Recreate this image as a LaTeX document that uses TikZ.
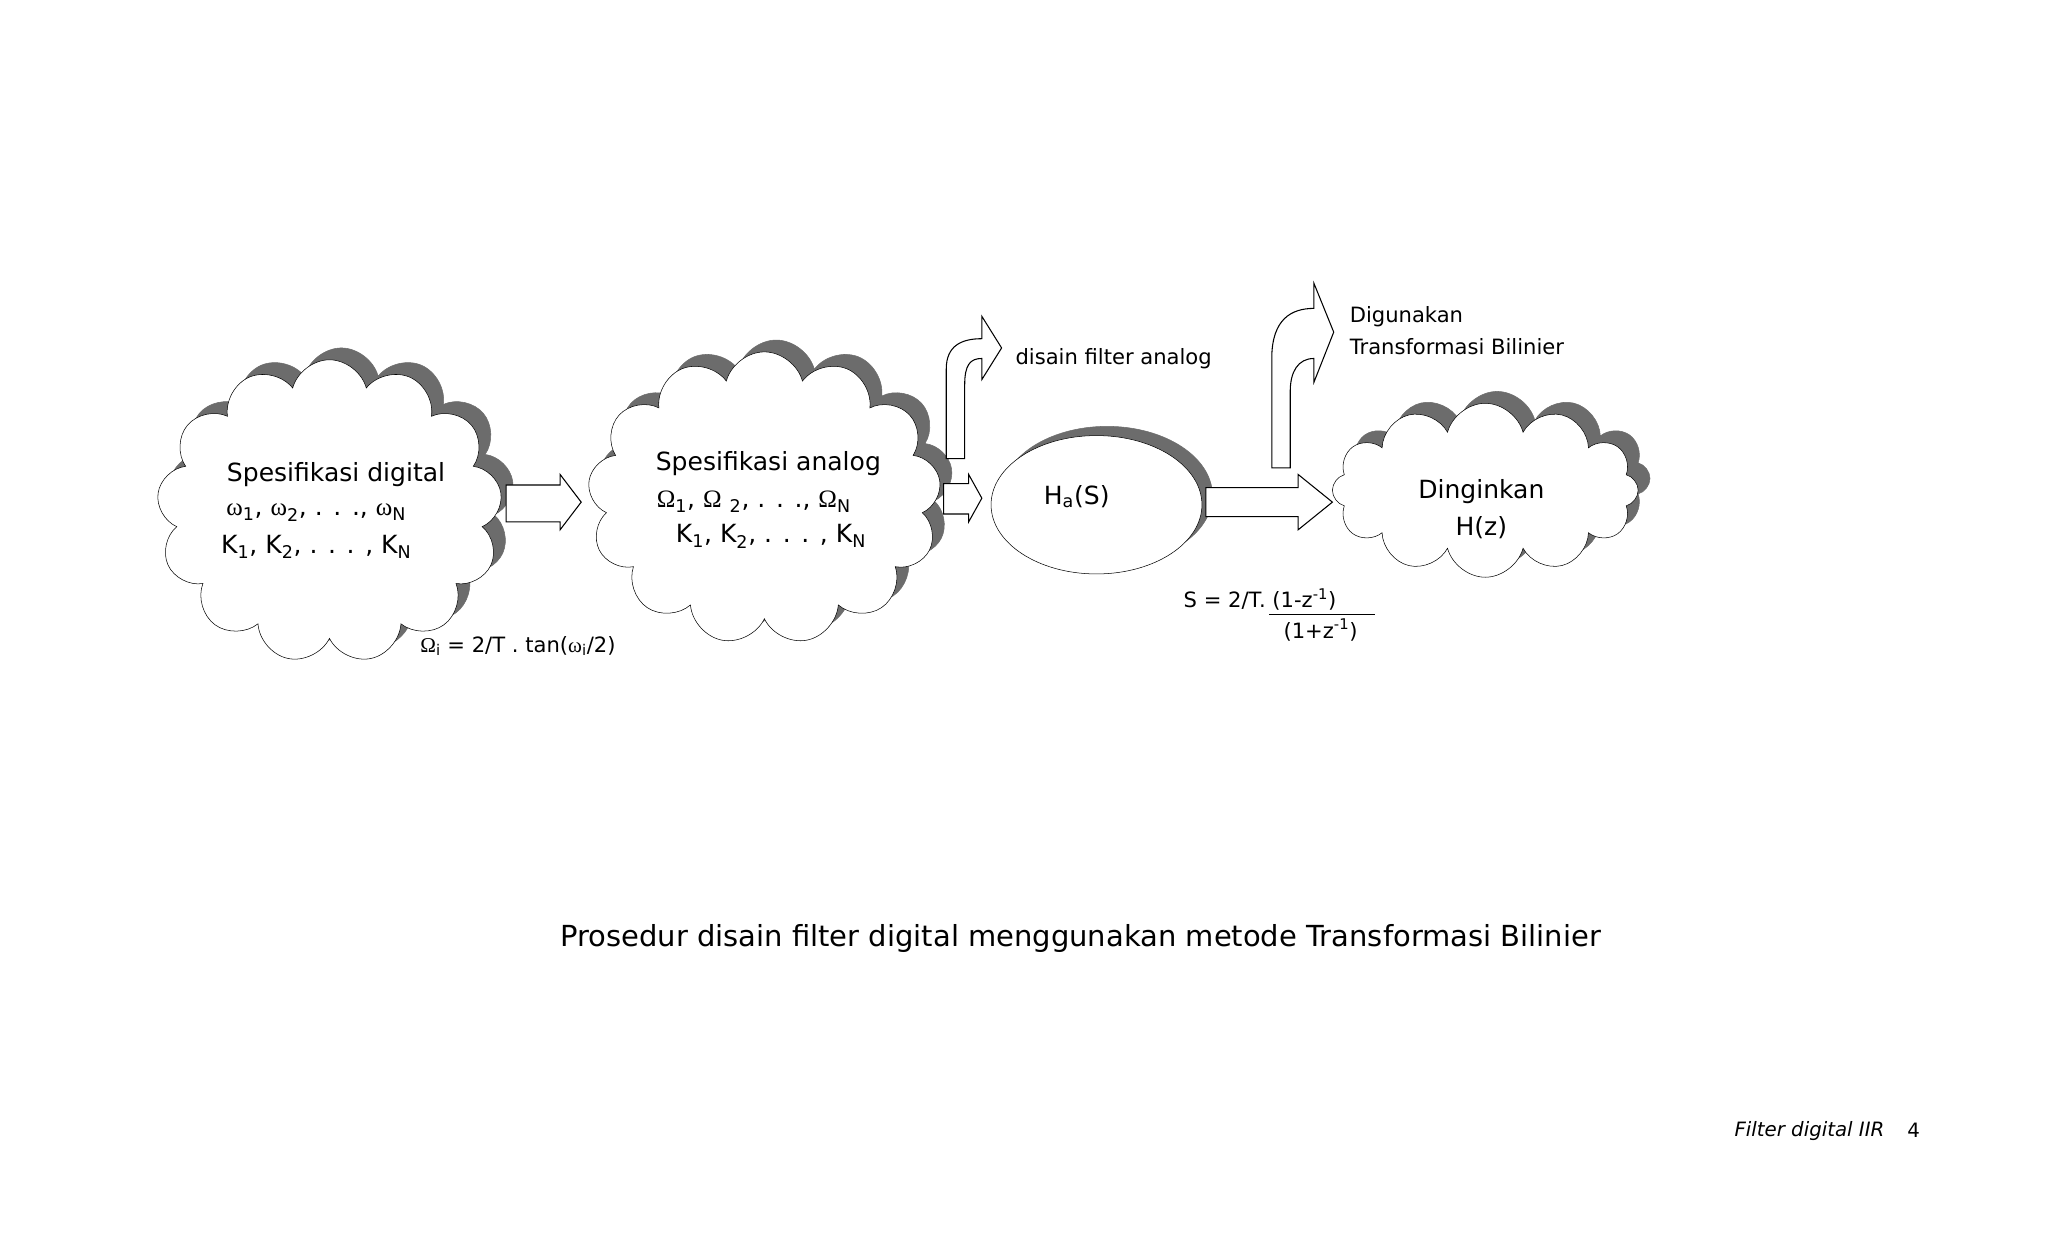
\documentclass[tikz,border=0pt]{standalone}
\usepackage{fontspec}
\setmainfont{DejaVu Sans}
\newfontfamily\gr{Liberation Serif}
\usetikzlibrary{shapes.symbols,shapes.geometric,shadows}
\begin{document}
\begin{tikzpicture}[x=1pt,y=-1pt,
  cl/.style={cloud,cloud puffs=13,draw,fill=white,inner sep=0pt,
    copy shadow={shadow xshift=9pt,shadow yshift=9pt,fill=gray!85!black,draw=gray!85!black}},
  blk/.style={draw,fill=white,line width=0.8pt},
  lab/.style={font=\fontsize{19}{23}\selectfont,inner sep=0pt},
  sm/.style={font=\fontsize{16}{19}\selectfont,inner sep=0pt}]
\useasboundingbox (0,0) rectangle (1554,943);
% clouds
\node[cl,minimum width=262pt,minimum height=230pt] (c1) at (250,388) {};
\node[cl,minimum width=268pt,minimum height=222pt] (c2) at (580,378) {};
\node[cl,minimum width=232pt,minimum height=132pt,cloud puffs=12] (c3) at (1127,372) {};
\node[ellipse,draw,fill=white,minimum width=160pt,minimum height=105pt,
  copy shadow={shadow xshift=8pt,shadow yshift=7pt,fill=gray!85!black,draw=gray!85!black}] (e) at (832,383) {};
% texts
\node[lab] (t1) at (255,360) {Spesifikasi digital};
\node[lab] (t2) at (240,389) {{\gr ω}\textsubscript{1}, {\gr ω}\textsubscript{2}, . . ., {\gr ω}\textsubscript{N}};
\node[lab] (t3) at (240,415) {K\textsubscript{1}, K\textsubscript{2}, . . . , K\textsubscript{N}};
\node[lab] (t4) at (583,352) {Spesifikasi analog};
\node[lab] (t5) at (572,381) {{\gr Ω}\textsubscript{1}, {\gr Ω} \textsubscript{2}, . . ., {\gr Ω}\textsubscript{N}};
\node[lab] (t6) at (585,407) {K\textsubscript{1}, K\textsubscript{2}, . . . , K\textsubscript{N}};
\node[lab] (t7) at (817,377) {H\textsubscript{a}(S)};
\node[lab] (t8) at (1124,373) {Dinginkan};
\node[lab] (t9) at (1124,400) {H(z)};
\node[sm] (t10) at (845,272) {disain filter analog};
\node[sm,anchor=west] (t11) at (1024,240) {Digunakan};
\node[sm,anchor=west] (t12) at (1024,263) {Transformasi Bilinier};
\node[sm] (t13) at (393,490) {{\gr Ω}\textsubscript{i} = 2/T . tan({\gr ω}\textsubscript{i}/2)};
\node[sm,anchor=west] (t14) at (898,455) {S = 2/T. (1-z\textsuperscript{-1})};
\node[sm] (t15) at (1002,478) {(1+z\textsuperscript{-1})};
\coordinate (f1) at (963,466); \coordinate (f2) at (1043,466);
\draw (f1) -- (f2);
\node[font=\fontsize{22}{26}\selectfont,inner sep=0pt] (cap) at (820,712) {Prosedur disain filter digital menggunakan metode Transformasi Bilinier};
\node[font=\fontsize{15}{18}\selectfont\itshape,anchor=east,inner sep=0pt] (ft) at (1430,858) {Filter digital IIR};
\node[font=\fontsize{15}{18}\selectfont,inner sep=0pt] (pg) at (1452,858) {4};
% block arrows
\draw[blk] (384,368) -- (425,368) -- (425,360) -- (441,381) -- (425,402) -- (425,396) -- (384,396) -- cycle;
\draw[blk] (716,367) -- (735,367) -- (735,360) -- (745,378) -- (735,396) -- (735,390) -- (716,390) -- cycle;
\draw[blk] (915,370) -- (985,370) -- (985,360) -- (1011,381) -- (985,402) -- (985,392) -- (915,392) -- cycle;
% bent arrows
\draw[blk] (718,348) -- (718,280) .. controls (718,262) and (730,257) .. (745,257) -- (745,240) -- (760,264) -- (745,288) -- (745,272) .. controls (736,272) and (732,277) .. (732,292) -- (732,348) -- cycle;
\draw[blk] (965,355) -- (965,272) .. controls (965,242) and (980,234) .. (997,234) -- (997,215) -- (1012,252) -- (997,290) -- (997,272) .. controls (985,272) and (979,282) .. (979,297) -- (979,355) -- cycle;
\end{tikzpicture}
\end{document}
